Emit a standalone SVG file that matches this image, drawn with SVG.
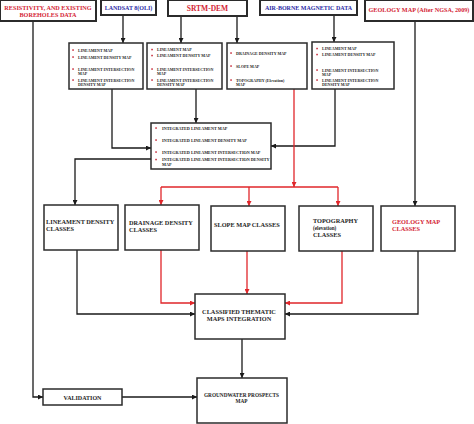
<svg xmlns="http://www.w3.org/2000/svg" width="474" height="424" viewBox="0 0 474 424">
<defs>
<marker id="ab" viewBox="0 0 6 6" refX="6" refY="3" markerWidth="5" markerHeight="5" markerUnits="userSpaceOnUse" orient="auto"><path d="M0,0 L6,3 L0,6 z" fill="#1a1a1a"/></marker>
<marker id="ar" viewBox="0 0 6 6" refX="6" refY="3" markerWidth="5" markerHeight="5" markerUnits="userSpaceOnUse" orient="auto"><path d="M0,0 L6,3 L0,6 z" fill="#e0262a"/></marker>
<style>
rect{fill:#fff;stroke:#2b2b2b;stroke-width:1.5}
.top{stroke-width:2}
text{font-family:"Liberation Serif","Times New Roman",serif;font-weight:bold;fill:#1e1e1e}
.t{font-size:6.2px;text-anchor:middle}
.red{fill:#d42535}
.blue{fill:#2a2aa6}
.l{font-size:4px}
.i{font-size:4.2px}
.c{font-size:6.3px}
.b{fill:#c42030;stroke:none}
.k{fill:none;stroke:#1a1a1a;stroke-width:1.3}
.r{fill:none;stroke:#e0262a;stroke-width:1.3}
</style>
</defs>
<g id="connectors">
<path class="k" d="M123 15V43" marker-end="url(#ab)"/>
<path class="k" d="M181 16V43" marker-end="url(#ab)"/>
<path class="k" d="M237 16V43" marker-end="url(#ab)"/>
<path class="k" d="M334 15V42" marker-end="url(#ab)"/>
<path class="k" d="M112 89V148H151" marker-end="url(#ab)"/>
<path class="k" d="M196 89V123" marker-end="url(#ab)"/>
<path class="k" d="M335 89V146H271" marker-end="url(#ab)"/>
<path class="k" d="M151 159H75V205" marker-end="url(#ab)"/>
<path class="k" d="M415 21V206" marker-end="url(#ab)"/>
<path class="k" d="M77 250V314H195" marker-end="url(#ab)"/>
<path class="k" d="M418 251V314H285" marker-end="url(#ab)"/>
<path class="k" d="M242 339V378" marker-end="url(#ab)"/>
<path class="k" d="M33 21V397H43" marker-end="url(#ab)"/>
<path class="k" d="M122 397H197" marker-end="url(#ab)"/>
<path class="r" d="M294 89V187" marker-end="url(#ar)"/>
<path class="r" d="M161 187H338"/>
<path class="r" d="M161 187V205" marker-end="url(#ar)"/>
<path class="r" d="M249 187V206" marker-end="url(#ar)"/>
<path class="r" d="M338 187V206" marker-end="url(#ar)"/>
<path class="r" d="M161 250V303H195" marker-end="url(#ar)"/>
<path class="r" d="M247 251V294" marker-end="url(#ar)"/>
<path class="r" d="M342 251V303H285" marker-end="url(#ar)"/>
</g>
<g id="resistivity">
<rect class="top" x="0" y="0" width="96" height="21"/>
<text class="t red" x="48" y="10">RESISTIVITY, AND EXISTING</text>
<text class="t red" x="48" y="17">BOREHOLES DATA</text>
</g>
<g id="landsat">
<rect class="top" x="101" y="0" width="55" height="15"/>
<text class="t blue" x="128.5" y="9.5" style="font-size:6px">LANDSAT 8(OLI)</text>
</g>
<g id="srtm">
<rect class="top" x="168" y="0" width="79" height="16"/>
<text class="t red" x="207.5" y="10.5" style="font-size:7.5px">SRTM-DEM</text>
</g>
<g id="airborne">
<rect class="top" x="260" y="0" width="97" height="15"/>
<text class="t blue" x="308.5" y="10" style="font-size:6px">AIR-BORNE MAGNETIC DATA</text>
</g>
<g id="geology">
<rect class="top" x="365" y="0" width="108" height="21"/>
<text class="t red" x="419" y="12">GEOLOGY MAP (After NGSA, 2009)</text>
</g>
<g id="landsat-products">
<rect x="69" y="43" width="74" height="46"/>
<rect class="b" x="72.3" y="49.3" width="1.5" height="1.5"/>
<rect class="b" x="72.3" y="56.3" width="1.5" height="1.5"/>
<rect class="b" x="72.3" y="68.3" width="1.5" height="1.5"/>
<rect class="b" x="72.3" y="79.3" width="1.5" height="1.5"/>
<text class="l" x="78" y="51.5">LINEAMENT MAP</text>
<text class="l" x="78" y="58.5">LINEAMENT DENSITY MAP</text>
<text class="l" x="78" y="70.5">LINEAMENT INTERSECTION</text>
<text class="l" x="78" y="74.8">MAP</text>
<text class="l" x="78" y="81.5">LINEAMENT INTERSECTION</text>
<text class="l" x="78" y="85.8">DENSITY MAP</text>
</g>
<g id="srtm-products">
<rect x="147" y="43" width="75" height="46"/>
<rect class="b" x="151.3" y="48.8" width="1.5" height="1.5"/>
<rect class="b" x="151.3" y="54.8" width="1.5" height="1.5"/>
<rect class="b" x="151.3" y="68.3" width="1.5" height="1.5"/>
<rect class="b" x="151.3" y="79.3" width="1.5" height="1.5"/>
<text class="l" x="157" y="51">LINEAMENT MAP</text>
<text class="l" x="157" y="57">LINEAMENT DENSITY MAP</text>
<text class="l" x="157" y="70.5">LINEAMENT INTERSECTION</text>
<text class="l" x="157" y="74.8">MAP</text>
<text class="l" x="157" y="81.5">LINEAMENT INTERSECTION</text>
<text class="l" x="157" y="85.8">DENSITY MAP</text>
</g>
<g id="terrain-products">
<rect x="227" y="43" width="80" height="46"/>
<rect class="b" x="230.3" y="52.3" width="1.5" height="1.5"/>
<rect class="b" x="230.3" y="65.3" width="1.5" height="1.5"/>
<rect class="b" x="230.3" y="79.3" width="1.5" height="1.5"/>
<text class="l" x="236" y="54.5">DRAINAGE DENSITY MAP</text>
<text class="l" x="236" y="67.5">SLOPE MAP</text>
<text class="l" x="236" y="81.5">TOPOGRAPHY (Elevation)</text>
<text class="l" x="236" y="85.8">MAP</text>
</g>
<g id="magnetic-products">
<rect x="312" y="42" width="82" height="47"/>
<rect class="b" x="316.3" y="47.8" width="1.5" height="1.5"/>
<rect class="b" x="316.3" y="53.8" width="1.5" height="1.5"/>
<rect class="b" x="316.3" y="69.3" width="1.5" height="1.5"/>
<rect class="b" x="316.3" y="79.3" width="1.5" height="1.5"/>
<text class="l" x="322" y="50">LINEAMENT MAP</text>
<text class="l" x="322" y="56">LINEAMENT DENSITY MAP</text>
<text class="l" x="322" y="71.5">LINEAMENT INTERSECTION</text>
<text class="l" x="322" y="75.8">MAP</text>
<text class="l" x="322" y="81.5">LINEAMENT INTERSECTION</text>
<text class="l" x="322" y="85.8">DENSITY MAP</text>
</g>
<g id="integrated">
<rect x="151" y="123" width="120" height="46"/>
<rect class="b" x="155.3" y="127.3" width="1.5" height="1.5"/>
<rect class="b" x="155.3" y="139.3" width="1.5" height="1.5"/>
<rect class="b" x="155.3" y="151.3" width="1.5" height="1.5"/>
<rect class="b" x="155.3" y="158.8" width="1.5" height="1.5"/>
<text class="i" x="162" y="129.5">INTEGRATED LINEAMENT MAP</text>
<text class="i" x="162" y="141.5">INTEGRATED LINEAMENT DENSITY MAP</text>
<text class="i" x="162" y="153.5">INTEGRATED LINEAMENT INTERSECTION MAP</text>
<text class="i" x="162" y="161">INTEGRATED LINEAMENT INTERSECTION DENSITY</text>
<text class="i" x="162" y="165.5">MAP</text>
</g>
<g id="lineament-classes">
<rect x="44" y="205" width="74" height="45"/>
<text class="c" x="46" y="224">LINEAMENT DENSITY</text>
<text class="c" x="46" y="231">CLASSES</text>
</g>
<g id="drainage-classes">
<rect x="125" y="205" width="74" height="45"/>
<text class="c" x="129" y="225">DRAINAGE DENSITY</text>
<text class="c" x="129" y="232">CLASSES</text>
</g>
<g id="slope-classes">
<rect x="211" y="206" width="74" height="45"/>
<text class="c" x="214" y="227">SLOPE MAP CLASSES</text>
</g>
<g id="topography-classes">
<rect x="299" y="206" width="74" height="45"/>
<text class="c" x="313" y="223">TOPOGRAPHY</text>
<text class="c" x="313" y="230" style="font-size:5.2px">(elevation)</text>
<text class="c" x="313" y="237">CLASSES</text>
</g>
<g id="geology-classes">
<rect x="381" y="206" width="74" height="45"/>
<text class="c red" x="392" y="224">GEOLOGY MAP</text>
<text class="c red" x="392" y="231">CLASSES</text>
</g>
<g id="integration">
<rect x="195" y="294" width="90" height="45"/>
<text class="t" x="239" y="314" style="font-size:6.3px">CLASSIFIED THEMATIC</text>
<text class="t" x="239" y="321" style="font-size:6.3px">MAPS INTEGRATION</text>
</g>
<g id="validation">
<rect x="43" y="389" width="79" height="16"/>
<text class="t" x="82.5" y="399.5" style="font-size:6px">VALIDATION</text>
</g>
<g id="groundwater">
<rect x="197" y="378" width="90" height="45"/>
<text class="t" x="241.5" y="397" style="font-size:5.3px">GROUNDWATER PROSPECTS</text>
<text class="t" x="241.5" y="403" style="font-size:5.3px">MAP</text>
</g>
</svg>
